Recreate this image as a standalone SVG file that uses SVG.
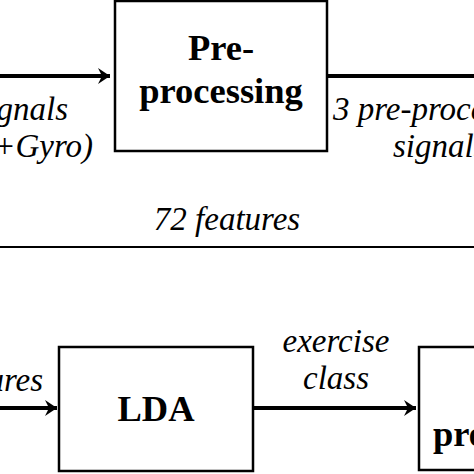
<svg xmlns="http://www.w3.org/2000/svg" width="474" height="474" viewBox="0 0 474 474">
<style>
.box{fill:#fff;stroke:#000;stroke-width:2.5}
.bt{font-family:"Liberation Serif",serif;font-weight:bold;font-size:36.5px;fill:#000}
.it{font-family:"Liberation Serif",serif;font-style:italic;font-size:33px;fill:#000}
.ar{stroke:#000;stroke-width:4;fill:none}
</style>
<defs>
<marker id="ah" markerUnits="userSpaceOnUse" markerWidth="20" markerHeight="20" refX="14" refY="10" orient="auto">
<path d="M2,2 L14,10 L2,18 L6,10 Z" fill="#000"/>
</marker>
</defs>
<rect width="474" height="474" fill="#fff"/>
<g id="connectors">
<line class="ar" x1="0" y1="76" x2="110" y2="76" marker-end="url(#ah)"/>
<line class="ar" x1="327" y1="76" x2="474" y2="76"/>
<line x1="0" y1="247" x2="474" y2="247" stroke="#000" stroke-width="2"/>
<line class="ar" x1="0" y1="408" x2="57" y2="408" marker-end="url(#ah)"/>
<line class="ar" x1="253" y1="408" x2="416" y2="408" marker-end="url(#ah)"/>
</g>
<g id="preprocessing">
<rect class="box" x="115" y="1" width="212" height="150"/>
<text class="bt" x="221" y="60" text-anchor="middle">Pre-</text>
<text class="bt" x="221" y="103" text-anchor="middle">processing</text>
</g>
<g id="lda">
<rect class="box" x="59" y="347" width="194" height="124"/>
<text class="bt" x="156" y="421" text-anchor="middle">LDA</text>
</g>
<g id="pre-right">
<rect class="box" x="419" y="347" width="70" height="123"/>
<text class="bt" x="433" y="446">pre</text>
</g>
<g id="labels">
<text class="it" x="68" y="120" text-anchor="end">signals</text>
<text class="it" x="93" y="157" text-anchor="end">(Acc+Gyro)</text>
<text class="it" x="333" y="120">3 pre-processed</text>
<text class="it" x="393" y="157">signals</text>
<text class="it" x="227" y="230" text-anchor="middle">72 features</text>
<text class="it" x="43" y="391" text-anchor="end">features</text>
<text class="it" x="336" y="352" text-anchor="middle">exercise</text>
<text class="it" x="336" y="389" text-anchor="middle">class</text>
</g>
</svg>
